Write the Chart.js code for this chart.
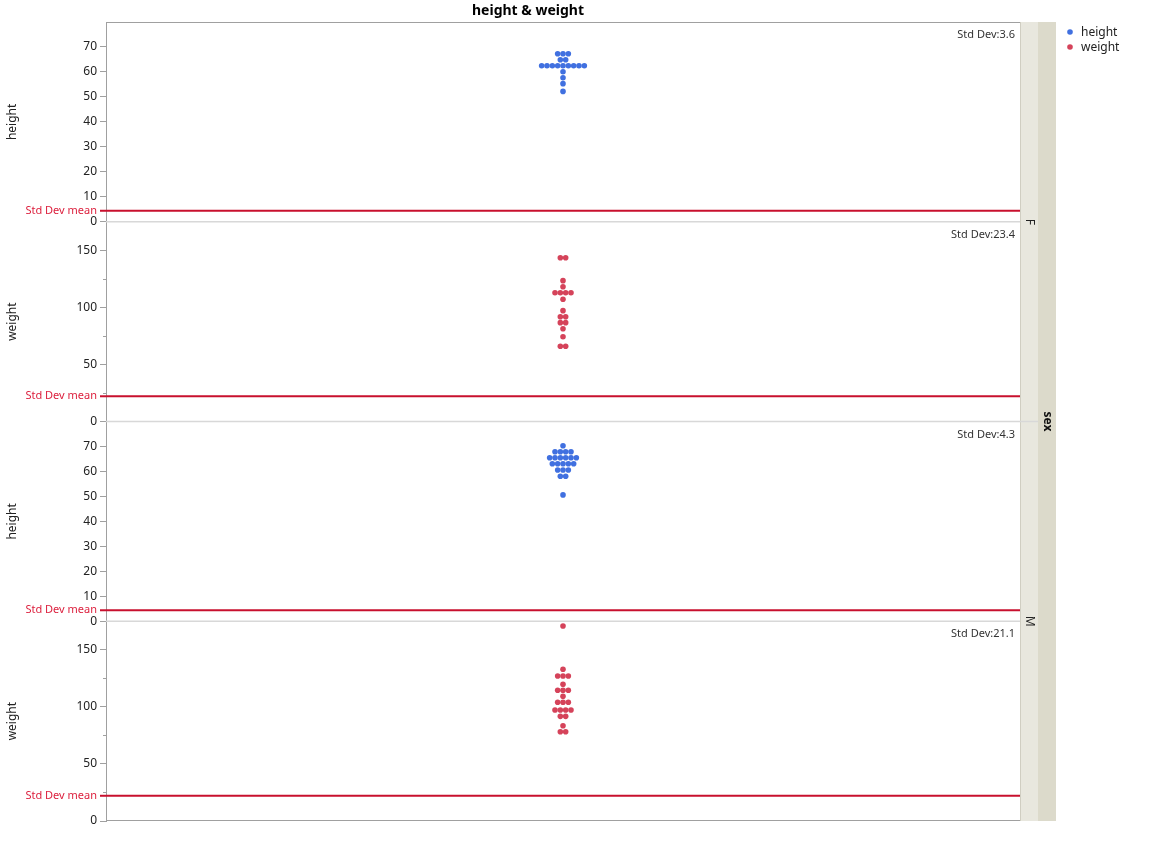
<!DOCTYPE html>
<html><head><meta charset="utf-8">
<script src="https://cdn.jsdelivr.net/npm/chart.js@4.4.0/dist/chart.umd.min.js"></script>
<style>html,body{margin:0;padding:0;background:#fff;} #wrap{width:1161px;height:842px;position:relative;}</style>
</head><body><div id="wrap"><canvas id="c" width="1161" height="842"></canvas></div>
<script>
const FONT = '"Noto Sans", "Open Sans", sans-serif';
const chartTitle = 'height & weight';
const groupName = 'sex';
const groups = ['F', 'M'];
const seriesNames = ['height', 'weight'];
const seriesColors = ['#4070e0', '#d5435a'];
// dot rows (one entry per dot)
const heightF = [67.3,67.3,67.3, 64.9,64.9, 62.5,62.5,62.5,62.5,62.5,62.5,62.5,62.5,62.5, 60.1, 57.7, 55.3, 52.2];
const weightF = [143.5,143.5, 123.4, 118.1, 112.8,112.8,112.8,112.8, 107.1, 97.1, 91.8,91.8, 86.6,86.6, 81.3, 74.3, 65.9,65.9];
const heightM = [70.3, 67.9,67.9,67.9,67.9, 65.5,65.5,65.5,65.5,65.5,65.5, 63.1,63.1,63.1,63.1,63.1, 60.6,60.6,60.6, 58.1,58.1, 50.6];
const weightM = [170.8, 132.9, 127.0,127.0,127.0, 119.8, 114.5,114.5,114.5, 109.3, 104.0,104.0,104.0, 97.2,97.2,97.2,97.2, 91.7,91.7, 83.5, 78.2,78.2];
const stdDevF = [3.6, 23.4];
const stdDevM = [4.3, 21.1];
const stdDevMean = [4.4, 22.1];
const heightTicks = [0,10,20,30,40,50,60,70];
const weightTicks = [0,50,100,150];
const weightMinorTicks = [25,75,125];
const heightMax = 80, weightMax = 175;
const xHalf = 85.7; // dot-width units across the frame

function swarm(values){
  const counts = {}, seen = {};
  values.forEach(v => counts[v] = (counts[v] || 0) + 1);
  return values.map(v => {
    seen[v] = (seen[v] === undefined) ? 0 : seen[v] + 1;
    return {x: seen[v] - (counts[v] - 1) / 2, y: v};
  });
}

const panels = [
  {id:'yFh', kind:0, group:0, values:heightF, sd:stdDevF[0]},
  {id:'yFw', kind:1, group:0, values:weightF, sd:stdDevF[1]},
  {id:'yMh', kind:0, group:1, values:heightM, sd:stdDevM[0]},
  {id:'yMw', kind:1, group:1, values:weightM, sd:stdDevM[1]}
];

const datasets = [];
panels.forEach(p => {
  datasets.push({type:'scatter', label:seriesNames[p.kind], yAxisID:p.id, xAxisID:'x',
    data:swarm(p.values), backgroundColor:seriesColors[p.kind], borderColor:seriesColors[p.kind],
    borderWidth:0, pointRadius:2.8, pointHoverRadius:2.8, order:1});
  datasets.push({type:'line', label:'Std Dev mean', yAxisID:p.id, xAxisID:'x',
    data:[{x:-xHalf, y:stdDevMean[p.kind]}, {x:xHalf, y:stdDevMean[p.kind]}],
    borderColor:'#c8102e', borderWidth:2, pointRadius:0, fill:false, order:2});
});

function yScale(kind, w){
  const isH = kind === 0;
  return {
    type:'linear', position:'left', stack:'panels', stackWeight:1, weight:w,
    min:0, max: isH ? heightMax : weightMax,
    afterBuildTicks: s => { s.ticks = (isH ? heightTicks : weightTicks).map(v => ({value:v})); },
    afterFit: s => { s.width = 106; },
    border:{display:true, color:'#a0a0a0', width:1},
    grid:{drawOnChartArea:false, drawTicks:true, tickLength:6, tickColor:'#a0a0a0', tickWidth:1},
    ticks:{color:'#222', font:{family:FONT, size:12}, padding:3, autoSkip:false, maxRotation:0},
    title:{display:true, text:seriesNames[kind], color:'#222', font:{family:FONT, size:12}, padding:{top:5, bottom:0}}
  };
}

const deco = {
  id:'deco',
  beforeDatasetsDraw(chart){
    const ctx = chart.ctx, a = chart.chartArea;
    ctx.save();
    panels.slice(0, 3).forEach((p, i) => {
      const s = chart.scales[p.id];
      const y = s.bottom;
      ctx.strokeStyle = '#d8d8d8'; ctx.lineWidth = 1.5;
      ctx.beginPath(); ctx.moveTo(a.left, y); ctx.lineTo(i === 1 ? a.right + 18 : a.right, y); ctx.stroke();
    });
    ctx.restore();
  },
  afterDraw(chart){
    const ctx = chart.ctx, a = chart.chartArea;
    ctx.save();
    // strips
    ctx.fillStyle = '#e8e7de'; ctx.fillRect(a.right, a.top, 18, a.bottom - a.top);
    ctx.fillStyle = '#dcdacb'; ctx.fillRect(a.right + 18, a.top, 18, a.bottom - a.top);
    ctx.strokeStyle = '#d0cec2'; ctx.lineWidth = 1;
    ctx.beginPath(); ctx.moveTo(a.right + 0.5, a.top); ctx.lineTo(a.right + 0.5, a.bottom); ctx.stroke();
    const mid = chart.scales['yFw'].bottom;
    ctx.strokeStyle = '#d8d8d8'; ctx.lineWidth = 1.5;
    ctx.beginPath(); ctx.moveTo(a.right, mid); ctx.lineTo(a.right + 18, mid); ctx.stroke();
    // frame top/bottom
    ctx.strokeStyle = '#a0a0a0'; ctx.lineWidth = 1;
    ctx.beginPath(); ctx.moveTo(a.left, a.top + 0.5); ctx.lineTo(a.right, a.top + 0.5); ctx.stroke();
    ctx.beginPath(); ctx.moveTo(a.left, a.bottom - 0.5); ctx.lineTo(a.right, a.bottom - 0.5); ctx.stroke();
    // group labels
    ctx.fillStyle = '#222'; ctx.textAlign = 'center'; ctx.textBaseline = 'middle';
    groups.forEach((g, gi) => {
      const top = chart.scales[panels[gi * 2].id].top, bot = chart.scales[panels[gi * 2 + 1].id].bottom;
      ctx.save(); ctx.translate(a.right + 9, (top + bot) / 2); ctx.rotate(Math.PI / 2);
      ctx.font = '12px ' + FONT; ctx.fillText(g, 0, 0); ctx.restore();
    });
    ctx.save(); ctx.translate(a.right + 27, (a.top + a.bottom) / 2); ctx.rotate(Math.PI / 2);
    ctx.font = 'bold 12px ' + FONT; ctx.fillStyle = '#111'; ctx.fillText(groupName, 0, 0); ctx.restore();
    // title
    ctx.font = 'bold 14px ' + FONT; ctx.fillStyle = '#000';
    ctx.fillText(chartTitle, (0 + a.right + 36) / 2, 11);
    // std dev texts, mean labels, minor ticks
    panels.forEach(p => {
      const s = chart.scales[p.id];
      ctx.font = '11px ' + FONT; ctx.fillStyle = '#333'; ctx.textAlign = 'right'; ctx.textBaseline = 'middle';
      ctx.fillText('Std Dev:' + p.sd.toFixed(1), a.right - 5, s.top + 13);
      const ym = s.getPixelForValue(stdDevMean[p.kind]);
      ctx.strokeStyle = '#c8102e'; ctx.lineWidth = 2;
      ctx.beginPath(); ctx.moveTo(a.left - 6, ym); ctx.lineTo(a.left, ym); ctx.stroke();
      ctx.font = '11px ' + FONT; ctx.fillStyle = '#dc1e3c';
      ctx.fillText('Std Dev mean', a.left - 9, ym);
      if (p.kind === 1) {
        ctx.strokeStyle = '#a0a0a0'; ctx.lineWidth = 1;
        weightMinorTicks.forEach(v => {
          const y = Math.round(s.getPixelForValue(v)) + 0.5;
          ctx.beginPath(); ctx.moveTo(a.left - 3, y); ctx.lineTo(a.left, y); ctx.stroke();
        });
      }
    });
    // legend
    seriesNames.forEach((n, i) => {
      const y = 32 + i * 15;
      ctx.fillStyle = seriesColors[i];
      ctx.beginPath(); ctx.arc(1070, y, 2.8, 0, Math.PI * 2); ctx.fill();
      ctx.fillStyle = '#222'; ctx.textAlign = 'left'; ctx.textBaseline = 'middle';
      ctx.font = '12px ' + FONT; ctx.fillText(n, 1081, y + 0.5);
    });
    ctx.restore();
  }
};

new Chart(document.getElementById('c'), {
  data:{datasets},
  options:{
    responsive:false, animation:false, devicePixelRatio:1,
    layout:{padding:{top:22, right:141, bottom:21, left:0}},
    plugins:{legend:{display:false}, title:{display:false}, tooltip:{enabled:false}},
    scales:{
      x:{type:'linear', min:-xHalf, max:xHalf, display:false},
      yMw: yScale(1, 1),
      yMh: yScale(0, 2),
      yFw: yScale(1, 3),
      yFh: yScale(0, 4)
    }
  },
  plugins:[deco]
});
</script></body></html>
